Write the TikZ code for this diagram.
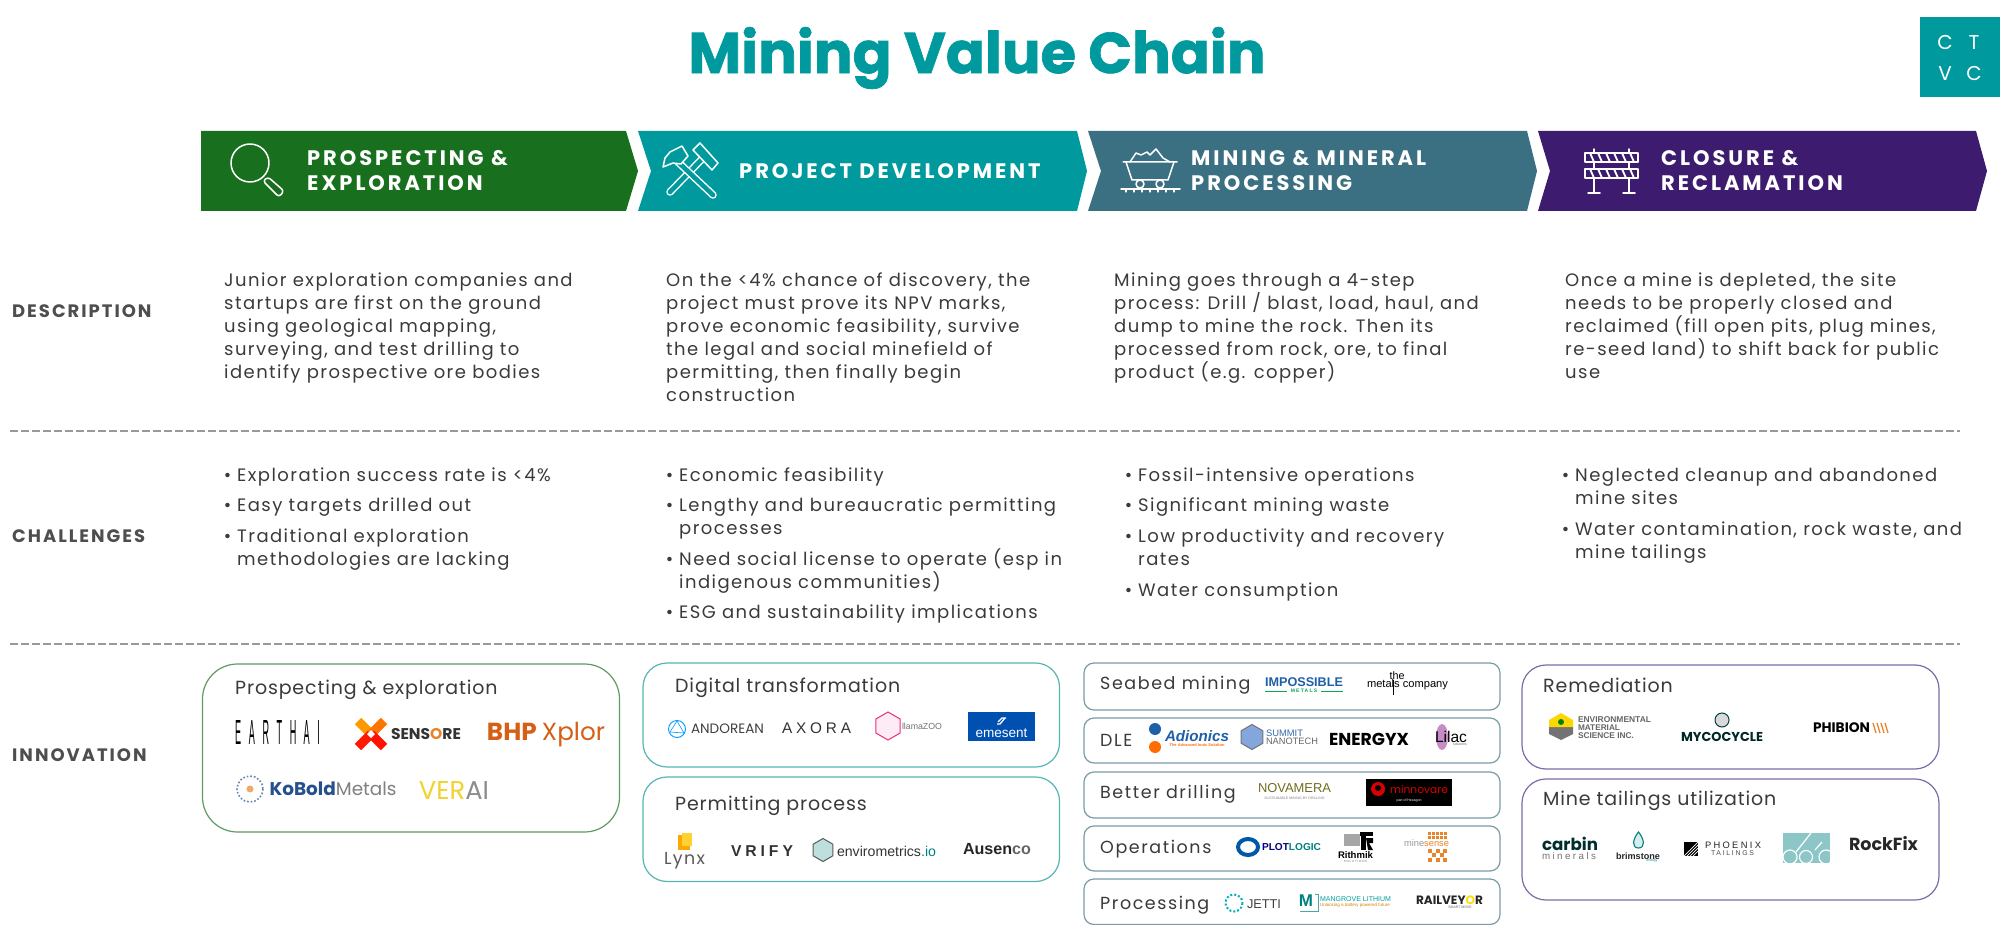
\documentclass[tikz,border=0pt]{standalone}
\usepackage{graphicx}
\usepackage{fontspec}
\setmainfont{Poppins}
\newfontfamily\titlef[FakeBold=1.2]{Poppins}
\newfontfamily\bodyf[LetterSpace=8]{Poppins}
\newfontfamily\chevf[LetterSpace=14]{Poppins}
\newfontfamily\sidef[LetterSpace=11]{Poppins}
\newfontfamily\ptitle[LetterSpace=4.5]{Poppins}
\newfontfamily\wide[LetterSpace=9]{Poppins}
\newfontfamily\ls{Liberation Sans}
\newfontfamily\lsw[LetterSpace=25]{Liberation Sans}
\newfontfamily\lsww[LetterSpace=85]{Liberation Sans}
\definecolor{cgreen}{HTML}{186F1D}
\definecolor{cteal}{HTML}{009A9E}
\definecolor{cslate}{HTML}{3B7082}
\definecolor{cpurple}{HTML}{3D1C6F}
\definecolor{bgreen}{HTML}{5E9A62}
\definecolor{bteal}{HTML}{56B5B5}
\definecolor{bslate}{HTML}{7A9BA8}
\definecolor{bpurple}{HTML}{7E6BA6}
\definecolor{ink}{HTML}{3A3A3A}
\definecolor{lorange}{HTML}{E8842A}
\definecolor{lblue}{HTML}{1E5FA8}
\definecolor{bhpc}{HTML}{D65F16}
\definecolor{kobc}{HTML}{24508F}
\definecolor{verc}{HTML}{F2D22E}
\newcommand\fs[1]{\fontsize{#1}{#1}\selectfont}
\newcommand\st{\rule{0pt}{15pt}}
\newcommand\bl{\llap{•\hspace{6pt}}}
\newcommand\lw[2]{\resizebox{#1pt}{!}{#2}}
\newcommand\lwh[3]{\resizebox{#1pt}{#2pt}{#3}}
\newcommand\hexg[4]{\draw[#4,shift={(#1,#2)}] (30:#3)--(90:#3)--(150:#3)--(210:#3)--(270:#3)--(330:#3)--cycle;}
\tikzset{
  chevtext/.style={text=white,font=\chevf\bfseries\fs{21},align=left,anchor=west,inner sep=0pt},
  icon/.style={draw=white,line width=1.5pt,line join=round,line cap=round},
  body/.style={anchor=north west,inner sep=0pt,align=left,text=ink,font=\bodyf\fontsize{18}{23}\selectfont},
  sidelabel/.style={anchor=west,inner sep=0pt,text=ink!90,font=\sidef\bfseries\fs{18}},
  rule/.style={draw=black!40,line width=1.1pt,dash pattern=on 8pt off 3pt},
  panel/.style={draw=#1,line width=1.2pt,fill=white},
  paneltitle/.style={anchor=west,inner sep=0pt,text=ink,font=\ptitle\fs{19}},
  paneltitlew/.style={anchor=west,inner sep=0pt,text=ink,font=\wide\fs{17.5}},
  logo/.style={inner sep=0pt,outer sep=0pt},
}
\begin{document}
\begin{tikzpicture}[x=1pt,y=-1pt]
\useasboundingbox (0,0) rectangle (2000,925);
% title and badge
\node[logo,text=cteal,font=\titlef\bfseries\fs{57.5}] (title) at (977,58) {Mining Value Chain};
\fill[cteal] (1920,17) rectangle (2000,97);
\node[logo,text=white,font=\fs{20}] (bc1) at (1945,43) {C};
\node[logo,text=white,font=\fs{20}] (bt) at (1974,43) {T};
\node[logo,text=white,font=\fs{20}] (bv) at (1945,74) {V};
\node[logo,text=white,font=\fs{20}] (bc2) at (1974,74) {C};
% chevrons
\fill[cgreen] (201,131)--(626,131)--(638,171)--(626,211)--(201,211)--cycle;
\fill[cteal] (638,131)--(1077,131)--(1087,171)--(1077,211)--(638,211)--(651,171)--cycle;
\fill[cslate] (1088,131)--(1527,131)--(1537,171)--(1527,211)--(1088,211)--(1101,171)--cycle;
\fill[cpurple] (1538,131)--(1976,131)--(1987,171)--(1976,211)--(1538,211)--(1550,171)--cycle;
\node[chevtext] (h1a) at (307,158) {PROSPECTING \&};
\node[chevtext] (h1b) at (307,183) {EXPLORATION};
\node[chevtext] (h2) at (739,171) {PROJECT DEVELOPMENT};
\node[chevtext] (h3a) at (1191,158) {MINING \& MINERAL};
\node[chevtext] (h3b) at (1191,183) {PROCESSING};
\node[chevtext] (h4a) at (1661,158) {CLOSURE \&};
\node[chevtext] (h4b) at (1661,183) {RECLAMATION};
% magnifier
\draw[icon] (250,163) circle (19);
\draw[icon,rounded corners=3pt] (263,181)--(268,177)--(284,191)--(279,197)--cycle;
% hammers
\draw[draw=white,line width=7.5pt,line cap=round] (703,158)--(670,192);
\draw[draw=cteal,line width=4.6pt,line cap=round] (703,158)--(670,192);
\draw[icon,fill=cteal] (693,150)--(700,143)--(718,163)--(712,170)--cycle;
\draw[draw=white,line width=7.5pt,line cap=round] (678,162)--(713,195);
\draw[draw=cteal,line width=4.6pt,line cap=round] (678,162)--(713,195);
\draw[icon,fill=cteal] (663,167)--(665,158)--(670,152)--(682,146)--(688,156)--(681,164)--(673,163)--cycle;
% cart
\draw[icon] (1123,162)--(1177,162) (1126,162)--(1132,180)--(1168,180)--(1174,162);
\draw[icon] (1130,162)--(1136,153)--(1141,155)--(1147,152)--(1150,155)--(1156,149)--(1163,158)--(1170,162);
\draw[icon] (1140,184) circle (4) (1160,184) circle (4);
\draw[icon] (1121,189)--(1180,189);
\foreach \x in {1126,1134,1142,1150,1158,1166,1174}{\draw[icon,line width=1.2pt] (\x,189)--(\x,192);}
% barrier
\draw[icon] (1594,149)--(1594,193) (1629,149)--(1629,193) (1588,193)--(1600,193) (1623,193)--(1635,193);
\foreach \yy in {153,169}{
  \draw[icon,fill=cpurple] (1585,\yy) rectangle (1638,\yy+9);
  \foreach \x in {1590,1598,1606,1614,1622,1630}{\draw[icon,line width=1.8pt] (\x,\yy)--(\x+4,\yy+9);}
}
% row labels
\node[sidelabel] (ld) at (12,311) {DESCRIPTION};
\node[sidelabel] (lc) at (12,536) {CHALLENGES};
\node[sidelabel] (li) at (12,755) {INNOVATION};
% rules
\coordinate (r1a) at (10,431); \coordinate (r1b) at (1960,431);
\coordinate (r2a) at (10,644); \coordinate (r2b) at (1960,644);
\draw[rule] (r1a)--(r1b);
\draw[rule] (r2a)--(r2b);
% descriptions
\node[body] (d1) at (224,271.5) {\st Junior exploration companies and\\startups are first on the ground\\using geological mapping,\\surveying, and test drilling to\\identify prospective ore bodies};
\node[body] (d2) at (666,271.5) {\st On the <4\% chance of discovery, the\\project must prove its NPV marks,\\prove economic feasibility, survive\\the legal and social minefield of\\permitting, then finally begin\\construction};
\node[body] (d3) at (1114,271.5) {\st Mining goes through a 4-step\\process: Drill / blast, load, haul, and\\dump to mine the rock. Then its\\processed from rock, ore, to final\\product (e.g. copper)};
\node[body] (d4) at (1565,271.5) {\st Once a mine is depleted, the site\\needs to be properly closed and\\reclaimed (fill open pits, plug mines,\\re-seed land) to shift back for public\\use};
% challenges
\node[body] (c1a) at (237,466.5) {\st\bl Exploration success rate is <4\%};
\node[body] (c1b) at (237,496.5) {\st\bl Easy targets drilled out};
\node[body] (c1c) at (237,527) {\st\bl Traditional exploration\\methodologies are lacking};
\node[body] (c2a) at (679,466.5) {\st\bl Economic feasibility};
\node[body] (c2b) at (679,496.5) {\st\bl Lengthy and bureaucratic permitting\\processes};
\node[body] (c2c) at (679,548.5) {\st\bl Need social license to operate (esp in\\indigenous communities)};
\node[body] (c2d) at (679,603) {\st\bl ESG and sustainability implications};
\node[body] (c3a) at (1138,466.5) {\st\bl Fossil-intensive operations};
\node[body] (c3b) at (1138,496.5) {\st\bl Significant mining waste};
\node[body] (c3c) at (1138,527) {\st\bl Low productivity and recovery\\rates};
\node[body] (c3d) at (1138,581) {\st\bl Water consumption};
\node[body] (c4a) at (1575,466.5) {\st\bl Neglected cleanup and abandoned\\mine sites};
\node[body] (c4b) at (1575,520) {\st\bl Water contamination, rock waste, and\\mine tailings};
% panels
\draw[panel=bgreen,rounded corners=35pt] (202.5,664) rectangle (619.5,832);
\draw[panel=bteal,rounded corners=24pt] (643,663) rectangle (1059.5,767);
\draw[panel=bteal,rounded corners=24pt] (643,777) rectangle (1059.5,881.5);
\foreach \a/\b in {663/710,718/763,772/818,826/871,879/924.5}{
  \draw[panel=bslate,rounded corners=10pt] (1084,\a) rectangle (1500,\b);
}
\draw[panel=bpurple,rounded corners=24pt] (1522,665) rectangle (1939,769);
\draw[panel=bpurple,rounded corners=24pt] (1522,779) rectangle (1939,900);
% panel titles
\node[paneltitle] (t1) at (235,690) {Prospecting \& exploration};
\node[paneltitle] (t2) at (675,688) {Digital transformation};
\node[paneltitle] (t3) at (675,806) {Permitting process};
\node[paneltitlew] (t4) at (1100,685) {Seabed mining};
\node[paneltitlew] (t5) at (1100,740) {DLE};
\node[paneltitlew] (t6) at (1100,794) {Better drilling};
\node[paneltitlew] (t7) at (1100,849) {Operations};
\node[paneltitlew] (t8) at (1100,905) {Processing};
\node[paneltitle] (t9) at (1543,685) {Remediation};
\node[paneltitle] (t10) at (1543,801) {Mine tailings utilization};
% --- logos: prospecting
\node[logo] (earth) at (277.5,732) {\lwh{85}{24}{\lsww EARTH\hspace{.8em}AI}};
\draw[draw=orange!80!yellow,line width=9pt] (371,734)--(358,721);
\draw[draw=orange!90!red,line width=9pt] (371,734)--(384,721);
\draw[draw=red!80!orange,line width=9pt] (371,734)--(358,747);
\draw[draw=red!85!orange,line width=9pt] (371,734)--(384,747);
\fill[white] (371,730)--(375,734)--(371,738)--(367,734)--cycle;
\node[logo,text=black!80] (sens) at (426,734) {\lw{70}{\bfseries SENS{\color{lorange}O}RE}};
\node[logo,text=bhpc] (bhp) at (546,735) {\lw{118}{\bfseries BHP \mdseries Xplor}};
\draw[draw=kobc!70,line width=1.6pt,dotted] (250,789) circle (13);
\fill[lorange!70] (250,789) circle (3.5);
\node[logo] (kob) at (333,789) {\lw{127}{\textcolor{kobc}{\bfseries KoBold}\textcolor{black!50}{Metals}}};
\node[logo] (vera) at (454,791) {\lw{70}{\textcolor{verc}{VER}\textcolor{black!45}{AI}}};
% digital
\draw[draw=blue!40!cyan,line width=.9pt] (677,729) circle (8.5);
\draw[draw=blue!40!cyan,line width=.6pt] (677,721)--(670,732)--(684,733)--cycle;
\node[logo,text=black!75] (and) at (727.5,729) {\lw{73}{ANDOREAN}};
\node[logo,text=black!80] (axo) at (816.5,728) {\lw{69}{\lsw AXORA}};
\hexg{888}{726}{14}{draw=magenta!70!orange,line width=1pt,fill=magenta!8}
\node[logo,text=black!55] (lla) at (922,726) {\lw{40}{\ls llamaZOO}};
\fill[blue!55!cyan!70!black] (968,712) rectangle (1035,741);
\node[logo,text=white] (eme) at (1001.5,733) {\lw{52}{\ls emesent}};
\draw[white,line width=1.3pt] (998,722)--(1002,718)--(1006,718) (1005,718)--(1000,724)--(997,724);
% permitting
\fill[orange!70!yellow] (678,835) rectangle (690,850);
\fill[orange!45!yellow!80] (682,833) rectangle (692,846);
\node[logo,text=black!65] (lyn) at (684.5,861) {\lw{41}{\bodyf Lynx}};
\node[logo,text=black!80] (vri) at (762,851) {\lw{62}{\lsw\bfseries VRIFY}};
\hexg{823}{850}{11.5}{draw=black!65,line width=1pt,fill=teal!25}
\node[logo] (env) at (886.5,851) {\lw{99}{\ls\textcolor{black!80}{envirometrics}\textcolor{teal}{.io}}};
\node[logo,text=black!85] (aus) at (997,849) {\lw{68}{\ls\bfseries Ausen\textcolor{black!60}{co}}};
% seabed
\node[logo,text=lblue] (imp) at (1304,682) {\lw{78}{\ls\bfseries IMPOSSIBLE}};
\node[logo,text=teal!70!green,font=\lsw\bfseries\fs{5}] (impm) at (1304,691) {METALS};
\draw[teal!70!green,line width=.7pt] (1265,691)--(1287,691) (1321,691)--(1343,691);
\node[logo,text=black] (the) at (1397,676) {\lw{15}{\ls the}};
\node[logo,text=black] (tmc) at (1407.5,685) {\lw{81}{\ls metals company}};
\draw[black,line width=.8pt] (1393,680)--(1393,695);
% dle
\fill[lblue] (1155,729) circle (6);
\fill[orange!85!red] (1155,747) circle (6);
\node[logo,text=lblue] (adi) at (1197,736) {\lw{64}{\ls\bfseries\itshape Adionics}};
\node[logo,text=orange!85!red,font=\ls\bfseries\fs{4}] (adis) at (1197,745) {The Advanced Ionic Solution};
\hexg{1252}{737}{12.5}{draw=black!55,line width=1pt,fill=cyan!50!blue!50}
\node[logo,text=cyan!50!blue!80!black,anchor=west] (sum) at (1266,733) {\lw{37}{\ls SUMMIT}};
\node[logo,text=black!60,anchor=west] (nan) at (1266,741) {\lw{52}{\ls NANOTECH}};
\node[logo,text=black] (ene) at (1369,739) {\lw{80}{\bfseries ENERGYX}};
\fill[violet!45] (1442,737) ellipse (6 and 13);
\node[logo,text=black,anchor=west] (lil) at (1435,737) {\lw{32}{\ls Lilac}};
\node[logo,text=black!60,font=\ls\fs{3.5},anchor=west] (lils) at (1453,744) {solutions};
% drilling
\node[logo,text=olive!75!black] (nov) at (1294.5,788) {\lw{73}{\ls NOVAMERA}};
\node[logo,text=black!50,font=\ls\fs{3.5}] (novs) at (1294.5,798) {SUSTAINABLE MINING BY DRILLING};
\fill[black] (1366,779) rectangle (1452,806);
\fill[red!85!black] (1378,789) circle (7);
\fill[black] (1378,788) circle (3);
\node[logo,text=red!85!black] (min) at (1419,789) {\lw{58}{minnovare}};
\node[logo,text=white,font=\ls\fs{3.5}] (mins) at (1409,801) {part of Hexagon};
% operations
\draw[draw=teal!70!blue,line width=4pt] (1248,847) ellipse (10 and 8);
\node[logo,anchor=west] (plo) at (1262,847) {\lw{59}{\ls\bfseries\textcolor{blue!50!black}{PLOT}\textcolor{teal}{LOGIC}}};
\fill[black] (1360,832) rectangle (1373,836);
\fill[black] (1361,836) rectangle (1366,850);
\fill[black] (1366,838) -- (1373,838) -- (1373,843) -- (1369,843) -- (1373,850) -- (1368,850) -- cycle;
\fill[black!35] (1344,834) rectangle (1360,846);
\node[logo,text=black] (rit) at (1355.5,855) {\lw{35}{\ls\bfseries Rithmik}};
\node[logo,text=black!55,font=\lsw\fs{3}] (rits) at (1355.5,861) {SOLUTIONS};
\foreach \x in {1428,1432,1436,1440,1444}{\foreach \yy in {832,836}{\fill[lorange] (\x,\yy) rectangle +(3.2,3.2);}}
\node[logo] (mns) at (1426.5,843.5) {\lw{45}{\ls\textcolor{black!40}{mine}\textcolor{lorange}{sense}}};
\foreach \x/\yy in {1428/849,1436/849,1443/849,1432/853,1440/853,1428/858,1436/858,1443/858}{\fill[lorange] (\x,\yy) rectangle +(4,4);}
% processing
\draw[draw=teal!60!cyan,line width=2pt,dotted] (1234,903) circle (8.5);
\node[logo,text=black!75,anchor=west] (jet) at (1247,904) {\lw{34}{\ls JETTI}};
\node[logo,text=teal,font=\ls\bfseries\fs{17}] (man) at (1306,901) {M};
\draw[teal!70,line width=.8pt] (1315,894)--(1318,894)--(1318,911)--(1300,911);
\node[logo,text=teal!75!cyan,anchor=west] (mgr) at (1320,899) {\lw{71}{\ls MANGROVE LITHIUM}};
\node[logo,text=orange!70!olive,anchor=west] (mgs) at (1320,905.5) {\lw{70}{\ls Unlocking a battery powered future}};
\node[logo,text=black!85] (rai) at (1449.5,900) {\lw{67}{\bfseries RAILVEY{\color{yellow!80!orange}O}R}};
\node[logo,text=black!60,font=\ls\fs{3.5}] (rais) at (1460,907) {SMART MOVE};
% remediation
\fill[black!55] (1549,727)--(1561,727)--(1573,727)--(1573,734)--(1561,740)--(1549,734)--cycle;
\fill[yellow!75!orange] (1549,727)--(1549,720)--(1561,713)--(1573,720)--(1573,727)--cycle;
\fill[green!50!black] (1561,722) circle (3);
\node[logo,text=black!60,anchor=west] (ems1) at (1578,720) {\lw{73}{\ls\bfseries ENVIRONMENTAL}};
\node[logo,text=black!60,anchor=west] (ems2) at (1578,728) {\lw{42}{\ls\bfseries MATERIAL}};
\node[logo,text=black!60,anchor=west] (ems3) at (1578,736) {\lw{56}{\ls\bfseries SCIENCE INC.}};
\draw[draw=teal!50!black,line width=1pt,fill=black!15] (1722,720) circle (7);
\node[logo,text=teal!30!black] (myc) at (1722,737) {\lw{82}{\bfseries MYCOCYCLE}};
\node[logo,text=black] (phi) at (1841.5,728) {\lw{57}{\bfseries PHIBION}};
\foreach \x in {1873,1877,1881,1885}{\draw[lorange,line width=1.3pt] (\x,723)--(\x+3,733);}
% tailings
\node[logo,text=teal!35!black] (car) at (1570,844) {\lw{56}{\bfseries carbin}};
\node[logo,text=black!55] (carm) at (1569,856) {\lw{54}{\lsw minerals}};
\draw[teal,line width=1.1pt,fill=teal!15] (1638.5,832)..controls (1632,840) and (1632,848)..(1638.5,848)..controls (1645,848) and (1645,840)..(1638.5,832)--cycle;
\node[logo,text=black!85] (bri) at (1638,856) {\lw{44}{\ls\bfseries brimstone}};
\node[logo,text=teal,font=\ls\fs{3.5}] (bris) at (1652,861) {energy};
\fill[black] (1684,842) rectangle (1698,856);
\foreach \k in {0,3,6,9}{\draw[white,line width=.7pt] (1684+\k,856)--(1698,842+\k);}
\node[logo,text=black!85] (pho) at (1733,845) {\lw{56}{\lsw PHOENIX}};
\node[logo,text=black!70] (phot) at (1732.5,853) {\lw{43}{\lsw TAILINGS}};
\fill[teal!45!white] (1783,833) rectangle (1830,863);
\begin{scope}
\clip (1783,833) rectangle (1830,863);
\draw[white,line width=1.2pt] (1806,857) circle (6.5) (1790,857) circle (7) (1826,857) circle (7);
\draw[white,line width=1.2pt] (1796,852)--(1811,833) (1815,850)--(1822,842);
\end{scope}
\node[logo,text=black!85] (roc) at (1883.5,844) {\lw{69}{\bfseries RockFix}};
\end{tikzpicture}
\end{document}
